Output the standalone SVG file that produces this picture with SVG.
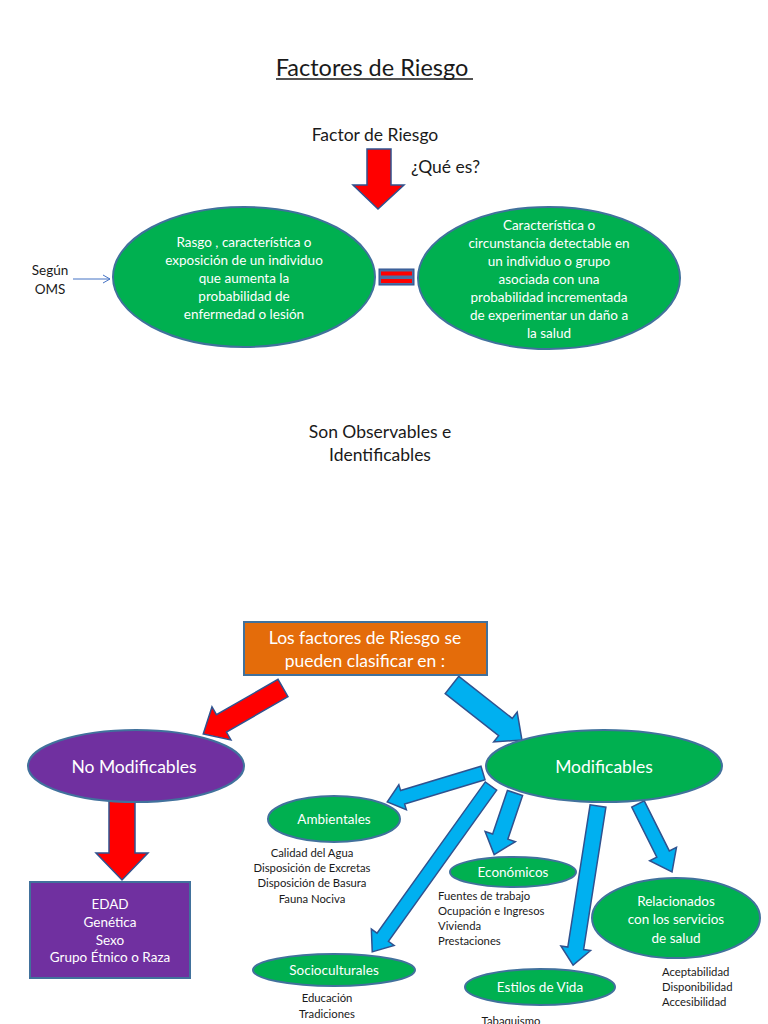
<svg xmlns="http://www.w3.org/2000/svg" width="768" height="1024" viewBox="0 0 768 1024">
<defs>
<style>
text{font-family:Lato,"Liberation Sans",sans-serif}
.w{fill:#fff;text-anchor:middle}
.b{fill:#1a1a1a}
.c{text-anchor:middle}
.s13{font-size:13.5px}
.s11{font-size:11.3px}
.s17{font-size:17.5px}
.green{fill:#00B050;stroke:#41719C;stroke-width:2}
.purple{fill:#7030A0;stroke:#41719C;stroke-width:2}
.red{fill:#FF0000;stroke:#2F528F;stroke-width:1.5}
.blue{fill:#00B0F0;stroke:#2F528F;stroke-width:1.5}
</style>
<marker id="open" markerWidth="10" markerHeight="10" refX="8" refY="5" orient="auto" markerUnits="userSpaceOnUse">
<path d="M1,1 L8,5 L1,9" fill="none" stroke="#4472C4" stroke-width="1"/>
</marker>
</defs>
<rect width="768" height="1024" fill="#fff"/>

<g id="title">
<text x="372" y="76" class="b c" font-size="23.5">Factores de Riesgo</text>
<line x1="276" y1="79" x2="473" y2="79" stroke="#1a1a1a" stroke-width="1.3"/>
</g>

<g id="connectors">
<path class="red" d="M367,149 L391,149 L391,185 L404,185 L378,209 L353,185 L367,185 Z"/>
<line x1="73" y1="279" x2="110" y2="279" stroke="#4472C4" stroke-width="1" marker-end="url(#open)"/>
<g id="equals">
<rect x="379" y="269" width="35" height="16" fill="#4A6FA5" stroke="#2F528F" stroke-width="1"/>
<rect x="381" y="271.5" width="31" height="4" fill="#FF0000"/>
<rect x="381" y="279" width="31" height="4" fill="#FF0000"/>
</g>
<path class="red" transform="translate(283,688) rotate(150.1)" d="M0,-10 L71,-10 L71,-19 L92,0 L71,19 L71,10 L0,10 Z"/>
<path class="red" d="M109,800 L135,800 L135,853 L148,853 L122,880 L96,853 L109,853 Z"/>
<path class="blue" transform="translate(452,685) rotate(38.2)" d="M0,-11 L68,-11 L68,-19 L89,0 L68,19 L68,11 L0,11 Z"/>
<path class="blue" transform="translate(483,773) rotate(163.2)" d="M0,-7 L84,-7 L84,-13 L100,0 L84,13 L84,7 L0,7 Z"/>
<path class="blue" transform="translate(491,786) rotate(125.6)" d="M0,-7 L186,-7 L186,-14 L204,0 L186,14 L186,7 L0,7 Z"/>
<path class="blue" transform="translate(515,793) rotate(108.7)" d="M0,-8 L46,-8 L46,-16 L65,0 L46,16 L46,8 L0,8 Z"/>
<path class="blue" transform="translate(598,806) rotate(98.9)" d="M0,-8 L144,-8 L144,-15 L161,0 L144,15 L144,8 L0,8 Z"/>
<path class="blue" transform="translate(638,804) rotate(63.4)" d="M0,-7 L56,-7 L56,-15 L76,0 L56,15 L56,7 L0,7 Z"/>
</g>

<g id="factor">
<text x="375" y="141" class="b c s17">Factor de Riesgo</text>
<text x="411" y="173" class="b s17">¿Qué es?</text>
</g>

<g id="segun">
<text x="50" y="275" class="b c s13">Según</text>
<text x="50" y="294" class="b c s13">OMS</text>
</g>

<g id="def-oms">
<ellipse class="green" cx="244" cy="277" rx="131" ry="70"/>
<text class="w s13"><tspan x="244" y="247">Rasgo , característica o</tspan><tspan x="244" y="265">exposición de un individuo</tspan><tspan x="244" y="283">que aumenta la</tspan><tspan x="244" y="301">probabilidad de</tspan><tspan x="244" y="319">enfermedad o lesión</tspan></text>
</g>

<g id="def-2">
<ellipse class="green" cx="549" cy="278" rx="131" ry="71"/>
<text class="w s13"><tspan x="549" y="230">Característica o</tspan><tspan x="549" y="248">circunstancia detectable en</tspan><tspan x="549" y="266">un individuo o grupo</tspan><tspan x="549" y="284">asociada con una</tspan><tspan x="549" y="302">probabilidad incrementada</tspan><tspan x="549" y="320">de experimentar un daño a</tspan><tspan x="549" y="338">la salud</tspan></text>
</g>

<g id="observables">
<text x="380" y="438" class="b c s17">Son Observables e</text>
<text x="380" y="461" class="b c s17">Identificables</text>
</g>

<g id="clasificar">
<rect x="244" y="622" width="243" height="53" fill="#E46C0A" stroke="#41719C" stroke-width="2"/>
<text x="365" y="644" class="w s17">Los factores de Riesgo se</text>
<text x="365" y="667" class="w s17">pueden clasificar en :</text>
</g>

<g id="no-modificables">
<ellipse class="purple" cx="136" cy="766" rx="108" ry="36"/>
<text x="134" y="773" class="w s17">No Modificables</text>
</g>

<g id="no-mod-list">
<rect class="purple" x="30" y="882" width="160" height="96"/>
<text class="w s13"><tspan x="110" y="909">EDAD</tspan><tspan x="110" y="927">Genética</tspan><tspan x="110" y="945">Sexo</tspan><tspan x="110" y="962">Grupo Étnico o Raza</tspan></text>
</g>

<g id="modificables">
<ellipse class="green" cx="604" cy="766" rx="118" ry="36"/>
<text x="604" y="773" class="w s17">Modificables</text>
</g>

<g id="ambientales">
<ellipse class="green" cx="334" cy="819" rx="66" ry="23"/>
<text x="334" y="824" class="w s13">Ambientales</text>
<text class="b c s11"><tspan x="312" y="857">Calidad del Agua</tspan><tspan x="312" y="872">Disposición de Excretas</tspan><tspan x="312" y="887">Disposición de Basura</tspan><tspan x="312" y="903">Fauna Nociva</tspan></text>
</g>

<g id="economicos">
<ellipse class="green" cx="513" cy="872" rx="63" ry="15"/>
<text x="513" y="877" class="w s13">Económicos</text>
<text class="b s11"><tspan x="438" y="900">Fuentes de trabajo</tspan><tspan x="438" y="915">Ocupación e Ingresos</tspan><tspan x="438" y="930">Vivienda</tspan><tspan x="438" y="945">Prestaciones</tspan></text>
</g>

<g id="socioculturales">
<ellipse class="green" cx="334" cy="970" rx="81" ry="16"/>
<text x="334" y="975" class="w s13">Socioculturales</text>
<text class="b c s11"><tspan x="327" y="1002">Educación</tspan><tspan x="327" y="1018">Tradiciones</tspan></text>
</g>

<g id="estilos">
<ellipse class="green" cx="540" cy="987" rx="75" ry="18"/>
<text x="540" y="992" class="w s13">Estilos de Vida</text>
<text x="511" y="1025" class="b c s11">Tabaquismo</text>
</g>

<g id="servicios">
<ellipse class="green" cx="676" cy="918" rx="84" ry="40"/>
<text class="w s13"><tspan x="676" y="906">Relacionados</tspan><tspan x="676" y="924">con los servicios</tspan><tspan x="676" y="943">de salud</tspan></text>
<text class="b s11"><tspan x="662" y="976">Aceptabilidad</tspan><tspan x="662" y="991">Disponibilidad</tspan><tspan x="662" y="1006">Accesibilidad</tspan></text>
</g>
</svg>
